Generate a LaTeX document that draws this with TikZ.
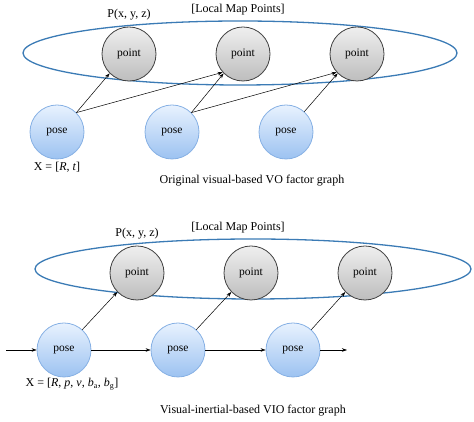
\documentclass[tikz,border=0pt]{standalone}
\usepackage{fontspec}
\setmainfont{Liberation Serif}
\usetikzlibrary{arrows.meta}
\definecolor{ellblue}{HTML}{3B7BB5}
\definecolor{posetop}{HTML}{E8F2FE}
\definecolor{posebot}{HTML}{9CC2F1}
\definecolor{posedraw}{HTML}{86B0E4}
\definecolor{pttop}{HTML}{EFEFEF}
\definecolor{ptbot}{HTML}{BDBDBD}
\definecolor{ptdraw}{HTML}{404040}
\begin{document}
\begin{tikzpicture}[x=1pt,y=1pt,
  ptnode/.style={circle, minimum size=54pt, inner sep=0pt, draw=ptdraw, line width=0.8pt, top color=pttop, bottom color=ptbot, font=\fontsize{11.5}{13}\selectfont},
  posenode/.style={circle, minimum size=54pt, inner sep=0pt, draw=posedraw, line width=0.8pt, top color=posetop, bottom color=posebot, font=\fontsize{11.5}{13}\selectfont},
  arr/.style={-{Stealth[length=5pt,width=3.5pt]}, line width=0.5pt, black},
  lbl/.style={font=\fontsize{12}{14}\selectfont, inner sep=0pt}
]
\useasboundingbox (0,0) rectangle (474,422);
% ---------- top: VO ----------
\draw[ellblue, line width=1.3pt] (240,369) ellipse [x radius=217, y radius=32];
\node[ptnode] (a1) at (129,368) {point};
\node[ptnode] (a2) at (243,368) {point};
\node[ptnode] (a3) at (357,368) {point};
\node[posenode] (b1) at (57,290) {pose};
\node[posenode] (b2) at (172,290) {pose};
\node[posenode] (b3) at (286,290) {pose};
\node[lbl] (pa) at (129,407) {P(x, y, z)};
\node[lbl] (la) at (238,412) {[Local Map Points]};
\node[lbl] (xa) at (57,255) {X = [\textit{R}, \textit{t}]};
\node[lbl] (ca) at (252,241) {Original visual-based VO factor graph};
\draw[arr] (b1.45) -- (a1.225);
\draw[arr] (b1.45) -- (a2.222);
\draw[arr] (b2.45) -- (a2.225);
\draw[arr] (b2.45) -- (a3.222);
\draw[arr] (b3.48) -- (a3.225);
% ---------- bottom: VIO ----------
\draw[ellblue, line width=1.3pt] (253,153) ellipse [x radius=218, y radius=30];
\node[ptnode] (c1) at (137,149) {point};
\node[ptnode] (c2) at (251,149) {point};
\node[ptnode] (c3) at (365,149) {point};
\node[posenode] (d1) at (64,72) {pose};
\node[posenode] (d2) at (178,72) {pose};
\node[posenode] (d3) at (293,72) {pose};
\coordinate (s0) at (6,72);
\coordinate (e0) at (347,72);
\node[lbl] (pb) at (137,188) {P(x, y, z)};
\node[lbl] (lb) at (238,194) {[Local Map Points]};
\node[lbl] (xb) at (72,38) {X = [\textit{R}, \textit{p}, \textit{v}, \textit{b}\textsubscript{a}, \textit{b}\textsubscript{g}]};
\node[lbl] (cb) at (253,11) {Visual-inertial-based VIO factor graph};
\draw[arr] (d1.48) -- (c1.224);
\draw[arr] (d2.48) -- (c2.224);
\draw[arr] (d3.48) -- (c3.224);
\draw[arr] (s0) -- (d1.west);
\draw[arr] (d1.east) -- (d2.west);
\draw[arr] (d2.east) -- (d3.west);
\draw[arr] (d3.east) -- (e0);
\end{tikzpicture}
\end{document}
